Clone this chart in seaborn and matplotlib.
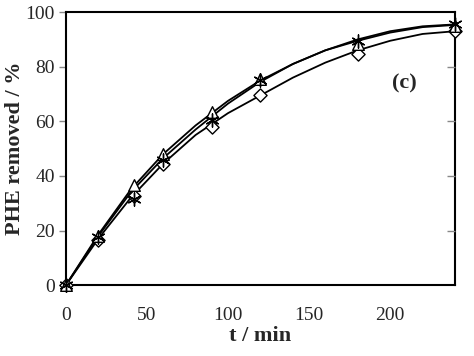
import matplotlib
matplotlib.use("Agg")
import matplotlib.pyplot as plt
import seaborn as sns
import pandas as pd

# measured points
t_points = [0, 20, 42, 60, 90, 120, 180, 240]
diamond_vals = [0, 16.5, 32.5, 44.5, 58, 69.5, 84.5, 93]
triangle_vals = [0, 18, 36.5, 48, 63.5, 75.5, 88.5, 95]
star_vals = [0, 17.5, 31.5, 46, 60.5, 75, 89.5, 95.5]

# fitted curves
t_curve = [0, 20, 40, 60, 80, 100, 120, 140, 160, 180, 200, 220, 240]
curve_upper = [0, 18.5, 35, 48, 58.5, 67.5, 75, 81, 86, 90, 93, 94.8, 95.5]
curve_middle = [0, 18, 34, 46.5, 57, 66.5, 74.5, 81, 86, 89.5, 92.5, 94.5, 95.3]
curve_lower = [0, 17, 32, 44.5, 55, 63, 69.5, 76, 81.5, 86, 89.5, 92, 93]

sns.set_style("white")
plt.rcParams['font.family'] = ['Liberation Serif', 'DejaVu Serif']

fig = plt.figure(figsize=(4.74, 3.56), dpi=100)
ax = fig.add_axes([0.139, 0.199, 0.821, 0.767])

for vals in [curve_upper, curve_middle, curve_lower]:
    sns.lineplot(x=t_curve, y=vals, ax=ax, color='black', linewidth=1.3)

pts = pd.DataFrame({'t': t_points, 'd': diamond_vals, 'tr': triangle_vals, 's': star_vals})
ax.scatter(pts['t'], pts['d'], marker='D', s=45, facecolors='white', edgecolors='black', linewidths=1.0, zorder=3, clip_on=False)
ax.scatter(pts['t'], pts['tr'], marker='^', s=70, facecolors='white', edgecolors='black', linewidths=1.0, zorder=3, clip_on=False)
ax.scatter(pts['t'], pts['s'], marker=(6, 2, 0), s=90, color='black', linewidths=1.0, zorder=4, clip_on=False)

ax.set_xlim(0, 240)
ax.set_ylim(0, 100)
ax.set_xticks([0, 50, 100, 150, 200])
ax.set_yticks([0, 20, 40, 60, 80, 100])
ax.tick_params(direction='out', length=5, width=1, labelsize=14, color='#888888', pad=3)
ax.tick_params(axis='x', pad=11)
for sp in ax.spines.values():
    sp.set_color('black')
    sp.set_linewidth(1.5)

ax2 = ax.twinx()
ax2.set_ylim(0, 100)
ax2.set_yticks([20, 40, 60, 80])
ax2.tick_params(direction='in', length=6, width=1, color='#888888', labelright=False)
for sp in ax2.spines.values():
    sp.set_visible(False)

ax.set_xlabel('t / min', fontsize=16, fontweight='bold', labelpad=1)
ax.set_ylabel('PHE removed / %', fontsize=16, fontweight='bold', labelpad=0)
ax.text(209, 74, '(c)', fontsize=16, fontweight='bold', ha='center', va='center')

fig.savefig('out.png', dpi=100)
